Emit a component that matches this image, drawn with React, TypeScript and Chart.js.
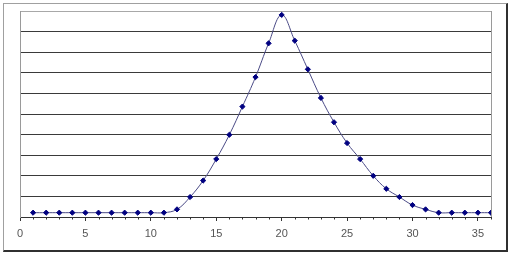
import React, { useEffect, useRef } from "react";
import { Chart, registerables } from "chart.js";

Chart.register(...registerables);

const xValues = [1, 2, 3, 4, 5, 6, 7, 8, 9, 10, 11, 12, 13, 14, 15, 16, 17, 18, 19, 20, 21, 22, 23, 24, 25, 26, 27, 28, 29, 30, 31, 32, 33, 34, 35, 36];
const yValues = [0.21, 0.21, 0.21, 0.21, 0.21, 0.21, 0.21, 0.21, 0.21, 0.21, 0.21, 0.37, 0.97, 1.77, 2.81, 3.99, 5.36, 6.79, 8.43, 9.81, 8.56, 7.17, 5.78, 4.6, 3.59, 2.81, 2.0, 1.37, 0.97, 0.58, 0.37, 0.21, 0.21, 0.21, 0.21, 0.21];
const xMin = 0;
const xMax = 36;
const xLabelStep = 5;
const yMin = 0;
const yMax = 10;

const minorTicks = {
  id: "minorTicks",
  afterDraw(chart: any) {
    const sx = chart.scales.x;
    const ctx = chart.ctx;
    const yAxis = chart.chartArea.bottom;
    ctx.save();
    ctx.strokeStyle = "#333";
    ctx.lineWidth = 1;
    for (let v = xMin; v <= xMax; v++) {
      if (v % xLabelStep === 0) continue;
      const px = Math.round(sx.getPixelForValue(v)) + 0.5;
      ctx.beginPath();
      ctx.moveTo(px, yAxis);
      ctx.lineTo(px, yAxis + 2.5);
      ctx.stroke();
    }
    ctx.restore();
  },
};

export default function App() {
  const ref = useRef<HTMLCanvasElement>(null);
  useEffect(() => {
    if (!ref.current) return;
    const chart = new Chart(ref.current, {
      type: "line",
      data: {
        datasets: [
          {
            data: xValues.map((x, i) => ({ x, y: yValues[i] })),
            borderColor: "#4a4a86",
            borderWidth: 1,
            backgroundColor: "#000080",
            pointBackgroundColor: "#000080",
            pointBorderColor: "#000080",
            pointStyle: "rectRot",
            pointRadius: 2.6,
            pointBorderWidth: 1,
            tension: 0.4,
            fill: false,
          },
        ],
      },
      plugins: [minorTicks],
      options: {
        animation: false,
        responsive: false,
        layout: { padding: { left: 20, right: 21, top: 11, bottom: 10 } },
        plugins: { legend: { display: false }, tooltip: { enabled: false } },
        scales: {
          x: {
            type: "linear",
            min: xMin,
            max: xMax,
            afterFit(s: any) {
              s.height = 30;
            },
            border: { display: true, color: "#333", width: 1 },
            grid: {
              drawOnChartArea: false,
              drawTicks: true,
              tickLength: 4,
              tickColor: (c: any) => (c.tick && c.tick.value % xLabelStep === 0 ? "#333" : "rgba(0,0,0,0)"),
            },
            ticks: {
              stepSize: 1,
              autoSkip: false,
              maxRotation: 0,
              padding: 6,
              color: "#555",
              font: { family: "Liberation Sans, Arial, sans-serif", size: 11 },
              callback: (v: any) => (Number(v) % xLabelStep === 0 ? String(v) : ""),
            },
          },
          y: {
            type: "linear",
            min: yMin,
            max: yMax,
            afterFit(s: any) {
              s.width = 0;
            },
            border: { display: true, color: "#9a9a9a", width: 1 },
            grid: {
              drawTicks: false,
              color: (c: any) => (c.tick && c.tick.value === yMax ? "#a8a8a8" : "#3a3a3a"),
              lineWidth: 1,
            },
            ticks: { display: false, stepSize: 1 },
          },
          y2: {
            type: "linear",
            position: "right",
            min: yMin,
            max: yMax,
            afterFit(s: any) {
              s.width = 0;
            },
            border: { display: true, color: "#9a9a9a", width: 1 },
            grid: { display: false, drawTicks: false },
            ticks: { display: false },
          },
        },
      },
    });
    return () => chart.destroy();
  }, []);
  return (
    <div style={{ position: "fixed", left: 0, top: 0, width: 512, height: 257, background: "#fff" }}>
      <div
        style={{
          position: "absolute",
          left: 3,
          top: 3,
          width: 502,
          height: 246,
          borderTop: "1px solid #a0a0a0",
          borderLeft: "1px solid #a0a0a0",
          borderRight: "2px solid #303030",
          borderBottom: "2px solid #303030",
        }}
      />
      <canvas ref={ref} width={512} height={257} style={{ position: "absolute", left: 0, top: 0 }} />
    </div>
  );
}
